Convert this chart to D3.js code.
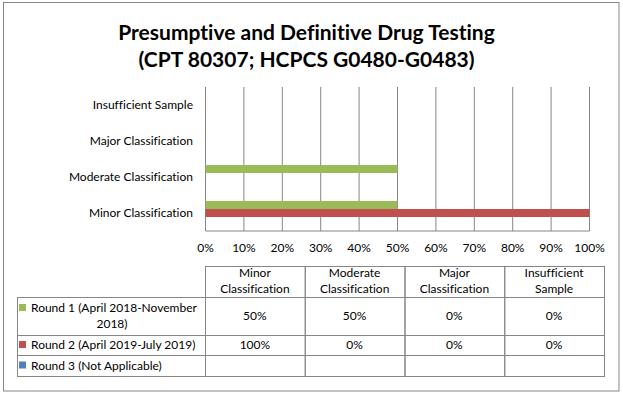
<!DOCTYPE html>
<html lang="en">
  <head>
    <meta charset="utf-8" />
    <title>Presumptive and Definitive Drug Testing</title>
    <style>
      body {
        margin: 0;
        background: #fff;
        font-family: Lato, 'Open Sans', sans-serif;
        font-variant-ligatures: none;
      }
      .grid line {
        stroke: #868686;
        stroke-width: 1;
      }
      .cell {
        fill: none;
        stroke: #868686;
        stroke-width: 1;
      }
      text {
        fill: #000;
      }
    </style>
    <script src="https://d3js.org/d3.v7.min.js"></script>
  </head>

  <body>
    <svg width="623" height="395"></svg>

    <script>
      // data
      const categories = [
        'Minor Classification',
        'Moderate Classification',
        'Major Classification',
        'Insufficient Sample',
      ];
      const headerLines = [
        ['Minor', 'Classification'],
        ['Moderate', 'Classification'],
        ['Major', 'Classification'],
        ['Insufficient', 'Sample'],
      ];
      const seriesNames = [
        'Round 1 (April 2018-November 2018)',
        'Round 2 (April 2019-July 2019)',
        'Round 3 (Not Applicable)',
      ];
      const round1 = [50, 50, 0, 0];
      const round2 = [100, 0, 0, 0];
      const round3 = [null, null, null, null];
      const xTicks = [0, 10, 20, 30, 40, 50, 60, 70, 80, 90, 100];
      const colors = ['#9BBB59', '#C0504D', '#4F81BD'];

      const series = [round1, round2, round3].map((values, i) => ({
        name: seriesNames[i],
        color: colors[i],
        values,
      }));

      const fs = '12px';
      const svg = d3.select('svg');

      // outer frame
      svg
        .append('rect')
        .attr('x', 3.5)
        .attr('y', 2.5)
        .attr('width', 615.5)
        .attr('height', 388.5)
        .attr('fill', '#fff')
        .attr('stroke', '#868686');

      // title
      const title = svg
        .append('text')
        .attr('text-anchor', 'middle')
        .style('font-weight', 'bold')
        .style('font-size', '21px');
      title
        .append('tspan')
        .attr('x', 306.5)
        .attr('y', 40)
        .text('Presumptive and Definitive Drug Testing');
      title
        .append('tspan')
        .attr('x', 306.5)
        .attr('y', 67)
        .text('(CPT 80307; HCPCS G0480-G0483)');

      // scales
      const x = d3.scaleLinear().domain([0, 100]).range([205.5, 589.5]);
      const y = d3
        .scaleBand()
        .domain(categories.slice().reverse())
        .range([87, 231])
        .paddingInner(1 / 3)
        .paddingOuter(1 / 6);
      const ySub = d3
        .scaleBand()
        .domain(d3.range(series.length))
        .range([0, y.bandwidth()]);

      // gridlines
      svg
        .append('g')
        .attr('class', 'grid')
        .selectAll('line')
        .data(xTicks)
        .join('line')
        .attr('x1', (d) => x(d))
        .attr('x2', (d) => x(d))
        .attr('y1', 87)
        .attr('y2', 231);

      // bars
      svg
        .append('g')
        .selectAll('g')
        .data(series)
        .join('g')
        .attr('fill', (d) => d.color)
        .selectAll('rect')
        .data((d, i) =>
          d.values.map((v, j) => ({ v, cat: categories[j], s: i })),
        )
        .join('rect')
        .attr('x', x(0))
        .attr('y', (d) => y(d.cat) + ySub(d.s))
        .attr('height', ySub.bandwidth())
        .attr('width', (d) => (d.v ? x(d.v) - x(0) : 0));

      // axis line
      svg
        .append('line')
        .attr('x1', x(0))
        .attr('x2', x(100))
        .attr('y1', 231)
        .attr('y2', 231)
        .attr('stroke', '#868686');

      // y labels
      svg
        .append('g')
        .selectAll('text')
        .data(categories)
        .join('text')
        .attr('x', 193)
        .attr('y', (d) => y(d) + y.bandwidth() / 2 + 4)
        .attr('text-anchor', 'end')
        .style('font-size', fs)
        .text((d) => d);

      // x tick labels
      svg
        .append('g')
        .selectAll('text')
        .data(xTicks)
        .join('text')
        .attr('x', (d) => x(d))
        .attr('y', 252)
        .attr('text-anchor', 'middle')
        .style('font-size', fs)
        .text((d) => d + '%');

      // data table
      const col = d3
        .scaleBand()
        .domain(categories)
        .range([205, 604]);
      const rowEdges = [266, 297, 335, 355, 376];
      const tableLeft = 17;

      const table = svg.append('g').attr('class', 'table');

      // header cells
      categories.forEach((c, i) => {
        table
          .append('rect')
          .attr('class', 'cell')
          .attr('x', col(c) + 0.5)
          .attr('y', rowEdges[0] + 0.5)
          .attr('width', col.bandwidth())
          .attr('height', rowEdges[1] - rowEdges[0]);
        const t = table
          .append('text')
          .attr('text-anchor', 'middle')
          .style('font-size', fs);
        headerLines[i].forEach((line, k) => {
          t.append('tspan')
            .attr('x', col(c) + col.bandwidth() / 2)
            .attr('y', 277 + k * 16)
            .text(line);
        });
      });

      // data rows
      series.forEach((s, r) => {
        const top = rowEdges[r + 1];
        const bottom = rowEdges[r + 2];
        const mid = (top + bottom) / 2;
        table
          .append('rect')
          .attr('class', 'cell')
          .attr('x', tableLeft + 0.5)
          .attr('y', top + 0.5)
          .attr('width', col(categories[0]) - tableLeft)
          .attr('height', bottom - top);
        categories.forEach((c, j) => {
          table
            .append('rect')
            .attr('class', 'cell')
            .attr('x', col(c) + 0.5)
            .attr('y', top + 0.5)
            .attr('width', col.bandwidth())
            .attr('height', bottom - top);
          if (s.values[j] !== null) {
            table
              .append('text')
              .attr('x', col(c) + col.bandwidth() / 2)
              .attr('y', mid + 4)
              .attr('text-anchor', 'middle')
              .style('font-size', fs)
              .text(s.values[j] + '%');
          }
        });

        // legend key + label
        const lines =
          r === 0
            ? ['Round 1 (April 2018-November', '2018)']
            : [s.name];
        const firstY = mid + 4 - ((lines.length - 1) * 16) / 2;
        table
          .append('rect')
          .attr('x', 19)
          .attr('y', firstY - 8)
          .attr('width', 7)
          .attr('height', 7)
          .attr('fill', s.color);
        lines.forEach((line, k) => {
          table
            .append('text')
            .attr('x', k === 0 ? 31 : 112)
            .attr('y', firstY + k * 16)
            .attr('text-anchor', k === 0 ? 'start' : 'middle')
            .style('font-size', fs)
            .text(line);
        });
      });
    </script>
  </body>
</html>
